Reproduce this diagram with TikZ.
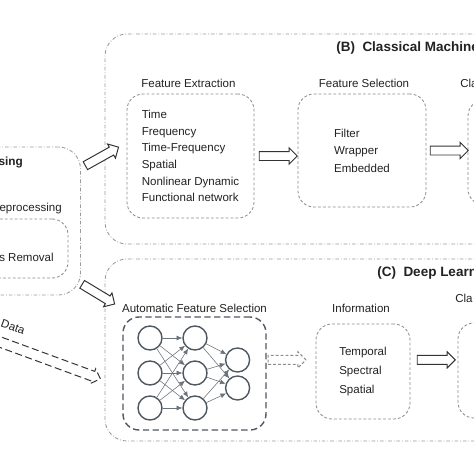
\documentclass[tikz,border=0pt]{standalone}
\usepackage{fontspec}
\setmainfont{Liberation Sans}
\usetikzlibrary{shapes.arrows,arrows.meta}
\definecolor{linegray}{HTML}{9A9A9A}
\definecolor{boxgray}{HTML}{8C8C8C}
\definecolor{netgray}{HTML}{505962}
\definecolor{txtgray}{HTML}{222222}
\tikzset{
  panel/.style={draw=linegray, line width=0.6pt, dash pattern=on 2.6pt off 1.4pt on 0.5pt off 1.4pt, rounded corners=0.55cm},
  stagebox/.style={draw=boxgray, line width=0.6pt, dash pattern=on 2pt off 1.5pt, rounded corners=0.4cm},
  netbox/.style={draw=netgray, line width=1pt, dash pattern=on 4.5pt off 2.5pt, rounded corners=0.4cm},
  neuron/.style={circle, draw=netgray, line width=1pt, minimum size=0.6cm, inner sep=0pt},
  synapse/.style={draw=netgray!85, line width=0.4pt, -{Latex[length=4pt,width=3.5pt]}},
  hollow/.style={single arrow, draw=black!80, line width=0.7pt, fill=white, inner xsep=0pt, inner ysep=0.1cm,
    minimum height=0.95cm, single arrow head extend=0.09cm},
  itemtext/.style={align=left, font=\fontsize{8.2}{#1}\selectfont},
}
\begin{document}
\begin{tikzpicture}[every node/.style={text=txtgray, font=\fontsize{8.2}{10}\selectfont}]
\useasboundingbox (0,0) rectangle (11.85,11.85);
\fill[white] (0,0) rectangle (11.85,11.85);
\clip (0,0) rectangle (11.85,11.85);
% frames
\node[panel, minimum width=4.95cm, minimum height=3.7cm] (prep) at (-0.4625,6.325) {};
\node[stagebox, minimum width=4.2cm, minimum height=1.475cm] (artefact) at (-0.4,5.6375) {};
\node[panel, minimum width=11.375cm, minimum height=5.25cm] (classic) at (8.3125,8.375) {};
\node[panel, minimum width=11.375cm, minimum height=4.55cm] (deep) at (8.3125,3.1) {};
% preprocessing
\node[anchor=east, inner sep=0pt, font=\bfseries\fontsize{8.4}{10}\selectfont] at (0.58,7.8) {sing};
\node[anchor=east, inner sep=0pt] at (1.55,6.625) {eprocessing};
\node[anchor=east, inner sep=0pt] at (1.35,5.425) {s Removal};
% classical machine learning
\node[anchor=west, inner sep=0pt, font=\bfseries\fontsize{9.6}{11}\selectfont] at (8.4,10.65) {(B)\ \ Classical Machine};
\node at (4.71,9.775) {Feature Extraction};
\node[stagebox, minimum width=3.175cm, minimum height=3.1cm, itemtext=11.9] (fe) at (4.7625,7.95) {Time\\Frequency\\Time-Frequency\\Spatial\\Nonlinear Dynamic\\Functional network};
\node at (9.1,9.775) {Feature Selection};
\node[stagebox, minimum width=3.2cm, minimum height=2.825cm, itemtext=12.4] (fs) at (9.05,8.0875) {Filter\\Wrapper\\Embedded};
\node[anchor=west, inner sep=0pt] at (11.5,9.775) {Cla};
\node[stagebox, minimum width=3.2cm, minimum height=2.625cm] (clab) at (13.3,8.0375) {};
% deep learning
\node[anchor=west, inner sep=0pt, font=\bfseries\fontsize{9.6}{11}\selectfont] at (9.425,5.025) {(C)\ \ Deep Learn};
\node at (4.8625,4.15) {Automatic Feature Selection};
\node[netbox, minimum width=3.575cm, minimum height=2.825cm] (nn) at (4.8625,2.5125) {};
\node[neuron] (a1) at (3.75,3.4) {};
\node[neuron] (a2) at (3.75,2.525) {};
\node[neuron] (a3) at (3.75,1.65) {};
\node[neuron] (b1) at (4.875,3.4) {};
\node[neuron] (b2) at (4.875,2.525) {};
\node[neuron] (b3) at (4.875,1.65) {};
\node[neuron] (c1) at (5.94,2.85) {};
\node[neuron] (c2) at (5.94,2.15) {};
\foreach \i in {1,2,3}
  \foreach \j in {1,2,3}
    \draw[synapse] (a\i) -- (b\j);
\foreach \i in {1,2,3}
  \foreach \j in {1,2}
    \draw[synapse] (b\i) -- (c\j);
\node at (9.025,4.15) {Information};
\node[stagebox, minimum width=2.35cm, minimum height=2.375cm, itemtext=13.8] (info) at (9.075,2.5625) {Temporal\\Spectral\\Spatial};
\node[anchor=west, inner sep=0pt] at (11.375,4.4) {Cla};
\node[stagebox, minimum width=3.2cm, minimum height=2.375cm] (clac) at (13.05,2.5875) {};
% arrows
\path (fe.east) -- node[hollow] {} (fe.east -| fs.west);
\path (fs.east) -- node[hollow] {} (fs.east -| clab.west);
\path (info.east) -- node[hollow, yshift=0.29cm] {} (info.east -| clac.west);
\path (nn.east) -- node[hollow, draw=boxgray, dash pattern=on 2pt off 1.5pt, pos=.37, yshift=0.34cm] {} (nn.east -| info.west);
\coordinate (ab1) at (2.075,7.675);
\coordinate (ab2) at (2.925,8.15);
\path (ab1) -- node[hollow, sloped] {} (ab2);
\coordinate (ac1) at (2.0,4.775);
\coordinate (ac2) at (2.825,4.275);
\path (ac1) -- node[hollow, sloped] {} (ac2);
\coordinate (raw) at (-1.0,3.667);
\coordinate (rawend) at (2.45,2.4);
\path (raw) -- node[hollow, sloped, minimum height=3.675cm, inner ysep=0.115cm, single arrow head extend=0.07cm, dash pattern=on 5pt off 2.5pt] {} (rawend);
\node[rotate=-20] at (0.325,3.675) {Data};
\end{tikzpicture}
\end{document}
